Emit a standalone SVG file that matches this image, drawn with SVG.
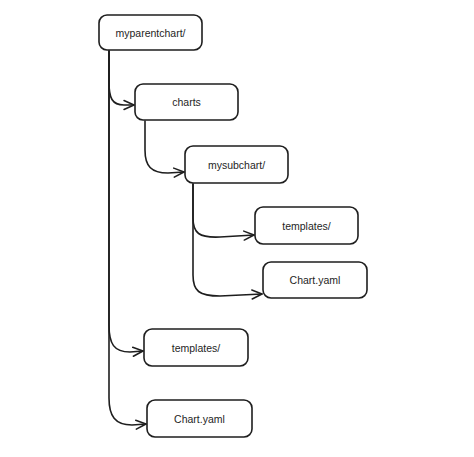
<svg xmlns="http://www.w3.org/2000/svg" width="474" height="457" viewBox="0 0 474 457">
<defs>
<style>
.box{fill:#fff;stroke:#1e1e1e;stroke-width:1.6}
.lbl{font-family:"Liberation Sans",Arial,sans-serif;font-size:10.5px;fill:#1e1e1e;text-anchor:middle;dominant-baseline:central}
.edge{fill:none;stroke:#1e1e1e;stroke-width:1.6;stroke-linecap:round}
</style>
<marker id="arr" viewBox="0 0 12 12" refX="11" refY="6" markerWidth="12" markerHeight="12" markerUnits="userSpaceOnUse" orient="auto">
<path d="M1,1.5 L11,6 L1,10.5" fill="none" stroke="#1e1e1e" stroke-width="1.5" stroke-linecap="round" stroke-linejoin="round"/>
</marker>
</defs>
<rect width="474" height="457" fill="#fff"/>
<g id="connectors">
<path class="edge" marker-end="url(#arr)" d="M109,51 L109,82 C109,98 112,105 124,105 L134,105"/>
<path class="edge" marker-end="url(#arr)" d="M109,51 L109,325 C109,344 114,352 130,352 L143,351"/>
<path class="edge" marker-end="url(#arr)" d="M109,51 L109,398 C109,416 115,425 132,425 L146,424"/>
<path class="edge" marker-end="url(#arr)" d="M145,121 L145,150 C145,166 151,173 168,173 L184,172"/>
<path class="edge" marker-end="url(#arr)" d="M193,184 L193,218 C193,233 199,238 220,237 L254,235"/>
<path class="edge" marker-end="url(#arr)" d="M193,184 L193,275 C193,291 199,296 220,296 L262,294"/>
</g>
<g id="myparentchart">
<rect class="box" x="99" y="15" width="103" height="35" rx="8"/>
<text class="lbl" x="150.5" y="32.5">myparentchart/</text>
</g>
<g id="charts">
<rect class="box" x="135" y="84" width="103" height="36" rx="8"/>
<text class="lbl" x="186.5" y="102">charts</text>
</g>
<g id="mysubchart">
<rect class="box" x="185" y="146" width="103" height="37" rx="8"/>
<text class="lbl" x="236.5" y="164.5">mysubchart/</text>
</g>
<g id="sub-templates">
<rect class="box" x="255" y="207" width="103" height="37" rx="8"/>
<text class="lbl" x="306.5" y="225.5">templates/</text>
</g>
<g id="sub-chartyaml">
<rect class="box" x="263" y="262" width="104" height="36" rx="8"/>
<text class="lbl" x="315" y="280">Chart.yaml</text>
</g>
<g id="templates">
<rect class="box" x="144" y="329" width="104" height="37" rx="8"/>
<text class="lbl" x="196" y="347.5">templates/</text>
</g>
<g id="chartyaml">
<rect class="box" x="147" y="400" width="105" height="37" rx="8"/>
<text class="lbl" x="199.5" y="418.5">Chart.yaml</text>
</g>
</svg>
